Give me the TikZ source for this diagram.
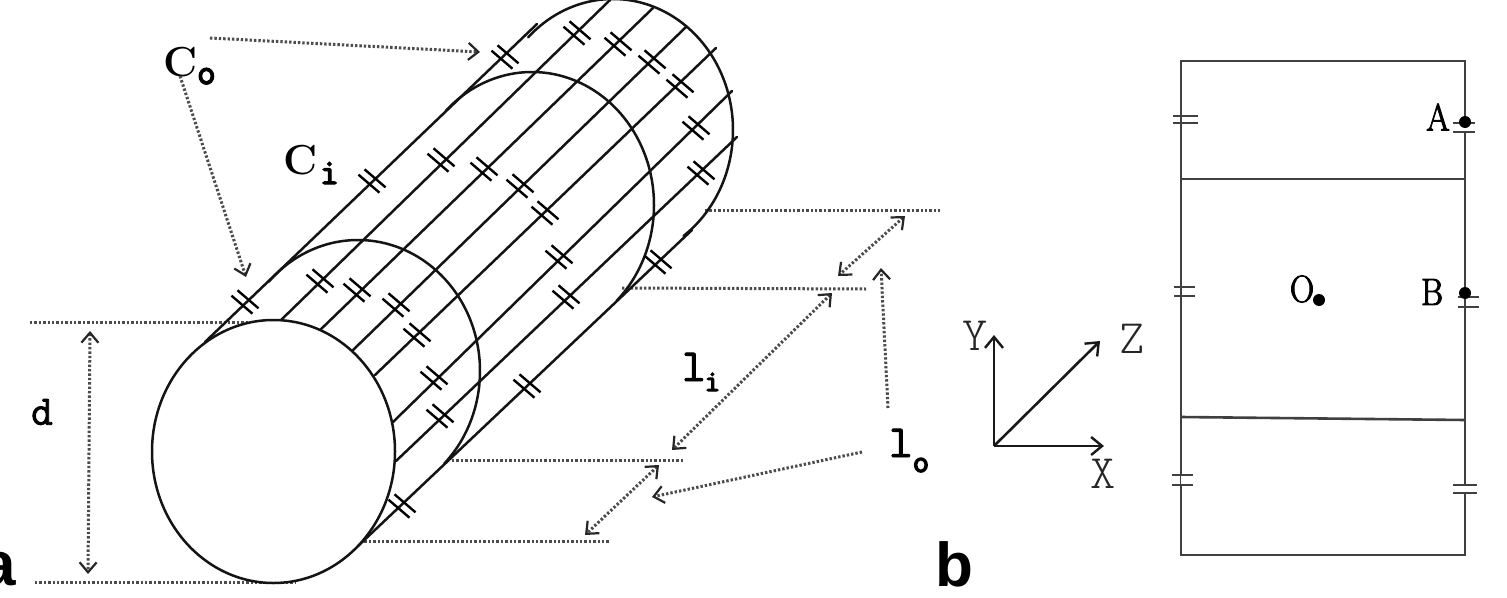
\documentclass[tikz,border=0pt]{standalone}
\usepackage{fontspec}
\newfontfamily\lightmono{Latin Modern Mono Light}
\newfontfamily\letterfont{Liberation Sans}
\newfontfamily\heavymono[FakeBold=2]{Latin Modern Mono}
\newfontfamily\heaviermono[FakeBold=4]{Latin Modern Mono}
\newfontfamily\ptserif[FakeBold=2.5,FakeStretch=0.88]{Latin Modern Roman}
\usetikzlibrary{arrows.meta}
\definecolor{dotc}{gray}{0.3}
\definecolor{panelc}{gray}{0.25}
\definecolor{axisc}{gray}{0.1}
\newcommand{\tickmark}[2]{%
  \draw[plate] (#1,#2) ++(-13.5,-6.3) -- ++(21,18) (#1,#2) ++(-7.5,-11.7) -- ++(21,18);}
\newcommand{\hcap}[4]{% x1 x2 y1 y2
  \draw[gapline] ({(#1+#2)/2},#3+1) -- ({(#1+#2)/2},#4-1);
  \draw[capline] (#1,#3) -- (#2,#3) (#1,#4) -- (#2,#4);}
\newcommand{\ringarc}[6]{% cx cy rx ry t1 t2
  plot[domain=#5:#6,samples=80,smooth] ({#1+#3*cos(\x)},{#2-#4*sin(\x)})}
\tikzset{
  x=1pt,y=-1pt,
  wire/.style={line width=2.5pt,black!92,line cap=round,line join=round},
  plate/.style={line width=2.4pt,black},
  gapline/.style={line width=3.4pt,white},
  capline/.style={line width=2pt,panelc},
  panel/.style={line width=2.6pt,panelc},
  dotline/.style={line width=3pt,dotc,dash pattern=on 2.4pt off 2pt},
  barb/.style={-{Straight Barb[length=10pt,width=17pt,line width=2.2pt,black!85]}},
  barbs/.style={{Straight Barb[length=10pt,width=17pt,line width=2.2pt,black!85]}-{Straight Barb[length=10pt,width=17pt,line width=2.2pt,black!85]}},
  axis/.style={line width=2.6pt,axisc,-{Straight Barb[length=11pt,width=18pt,line width=2.4pt]}},
  lbl/.style={inner sep=0pt,outer sep=0pt,text=black},
  sfbig/.style={lbl,font=\fontsize{62}{62}\selectfont\letterfont\bfseries},
  ttlbl/.style={lbl,font=\fontsize{46}{46}\selectfont\heavymono},
  axlbl/.style={lbl,text=black!85,font=\fontsize{48}{48}\selectfont\lightmono},
  serlbl/.style={lbl,font=\fontsize{42}{42}\selectfont\rmfamily\bfseries},
  ptlbl/.style={lbl,font=\fontsize{38}{38}\selectfont\ptserif},
  pdot/.style={circle,fill=black,inner sep=0pt,minimum size=12pt},
}
\begin{document}
\begin{tikzpicture}
\useasboundingbox (0,0) rectangle (1507,597);
\fill[white] (0,0) rectangle (1507,597);
% dotted levels
\coordinate (dtopA) at (30,322);   \coordinate (dtopB) at (255,322);
\coordinate (dbotA) at (35,582);   \coordinate (dbotB) at (295,582);
\coordinate (l1A) at (360,541);    \coordinate (l1B) at (610,541);
\coordinate (l2A) at (452,460);    \coordinate (l2B) at (685,460);
\coordinate (l3A) at (622,288);    \coordinate (l3B) at (866,289);
\coordinate (l4A) at (705,210);    \coordinate (l4B) at (940,210);
\foreach \a/\b in {dtopA/dtopB,dbotA/dbotB,l1A/l1B,l2A/l2B,l3A/l3B,l4A/l4B}
  \draw[dotline] (\a) -- (\b);
% far arcs
\draw[wire] \ringarc{613}{130}{120}{131}{135}{-54};
\draw[wire] \ringarc{532}{205}{122}{133}{135}{-46};
\draw[wire] \ringarc{358}{371}{122}{131}{137}{-45};
% generators
\draw[wire] (205,342) -- (537,24);
\draw[wire] (279,322) -- (610,0);
\draw[wire] (317,333) -- (653,8);
\draw[wire] (352,351) -- (686,27);
\draw[wire] (375,375) -- (716,48);
\draw[wire] (393,422) -- (732,91);
\draw[wire] (396,461) -- (737,137);
\draw[wire] (358,546) -- (692,230);
% front ring
\draw[wire,fill=white] (273.5,451.5) ellipse [x radius=121.5,y radius=131.5];
% capacitors
\foreach \x/\y in {245/302,372/181,505/57,
  320/281,441/160,577/33,
  357/290,484/169,618/44,
  396/305,520/186,652/62,
  417/335,545/213,680/86,
  434/378,559/257,696/128,
  440/416,566/297,701/173,
  402/506,527/386,658/262}
  \tickmark{\x}{\y}
% panel a dotted arrows
\coordinate (dU) at (90,331);  \coordinate (dD) at (88,574);
\coordinate (liU) at (832,293); \coordinate (liD) at (672,450);
\coordinate (upA) at (905,216); \coordinate (upB) at (838,276);
\coordinate (loA) at (659,465); \coordinate (loB) at (585,535);
\draw[dotline,barbs] (dU) -- (dD);
\draw[dotline,barbs] (liU) -- (liD);
\draw[dotline,barbs] (upA) -- (upB);
\draw[dotline,barbs] (loA) -- (loB);
\node[ttlbl,font=\fontsize{42}{42}\selectfont\heavymono] (dlab) at (42,412) {d};
\node[ttlbl,anchor=base west] (ili) at (682,381) {l\hspace{-1pt}\raisebox{-10pt}{\fontsize{30}{30}\selectfont\heaviermono i}};
\node[ttlbl,anchor=base west] (ilo) at (889,457) {l\raisebox{-15pt}{\fontsize{32}{32}\selectfont\heaviermono o}};
\coordinate (loS1) at (888,408); \coordinate (loE1) at (881,268);
\coordinate (loS2) at (862,452); \coordinate (loE2) at (652,497);
\draw[dotline,barb] (loS1) -- (loE1);
\draw[dotline,barb] (loS2) -- (loE2);
\node[serlbl,anchor=base west] (co) at (163,76) {C\raisebox{-8pt}{\fontsize{36}{36}\selectfont\heaviermono o}};
\node[serlbl,anchor=base west] (ci) at (283,174) {C\hspace{3pt}\raisebox{-10pt}{\fontsize{36}{36}\selectfont\heaviermono i}};
\coordinate (coS1) at (210,38);  \coordinate (coE1) at (480,52);
\coordinate (coS2) at (180,76);  \coordinate (coE2) at (246,277);
\draw[dotline,barb] (coS1) -- (coE1);
\draw[dotline,barb] (coS2) -- (coE2);
% axes
\coordinate (orig) at (994,446);
\coordinate (yE) at (994,335);
\coordinate (xE) at (1104,446);
\coordinate (zE) at (1100,341);
\draw[axis] (orig) -- (yE);
\draw[axis] (orig) -- (xE);
\draw[axis] (orig) -- (zE);
\node[axlbl] (ylab) at (975,336) {Y};
\node[axlbl] (zlab) at (1132,339) {Z};
\node[axlbl] (xlab) at (1103,474) {X};
% panel letters
\node[sfbig,anchor=base west] (lettera) at (-18,585) {a};
\node[sfbig,anchor=base west] (letterb) at (935,586) {b};
% panel b
\coordinate (pTL) at (1181,61); \coordinate (pBR) at (1465,555);
\draw[panel] (pTL) rectangle (pBR);
\draw[panel] (1181,179) -- (1465,179);
\draw[panel] (1181,417) -- (1465,420);
\hcap{1173}{1198}{116}{123}
\hcap{1174}{1195}{287}{296}
\hcap{1172}{1193}{475}{485}
\hcap{1453}{1475}{123}{132}
\hcap{1458}{1479}{297}{307}
\hcap{1453}{1477}{485}{493}
\node[pdot] (dA) at (1465,122) {};
\node[pdot] (dB) at (1465,293) {};
\node[pdot] (dO) at (1319,300) {};
\node[ptlbl] (labA) at (1438,117) {A};
\node[ptlbl] (labB) at (1432,292) {B};
\node[ptlbl] (labO) at (1302,289) {O};
\end{tikzpicture}
\end{document}
